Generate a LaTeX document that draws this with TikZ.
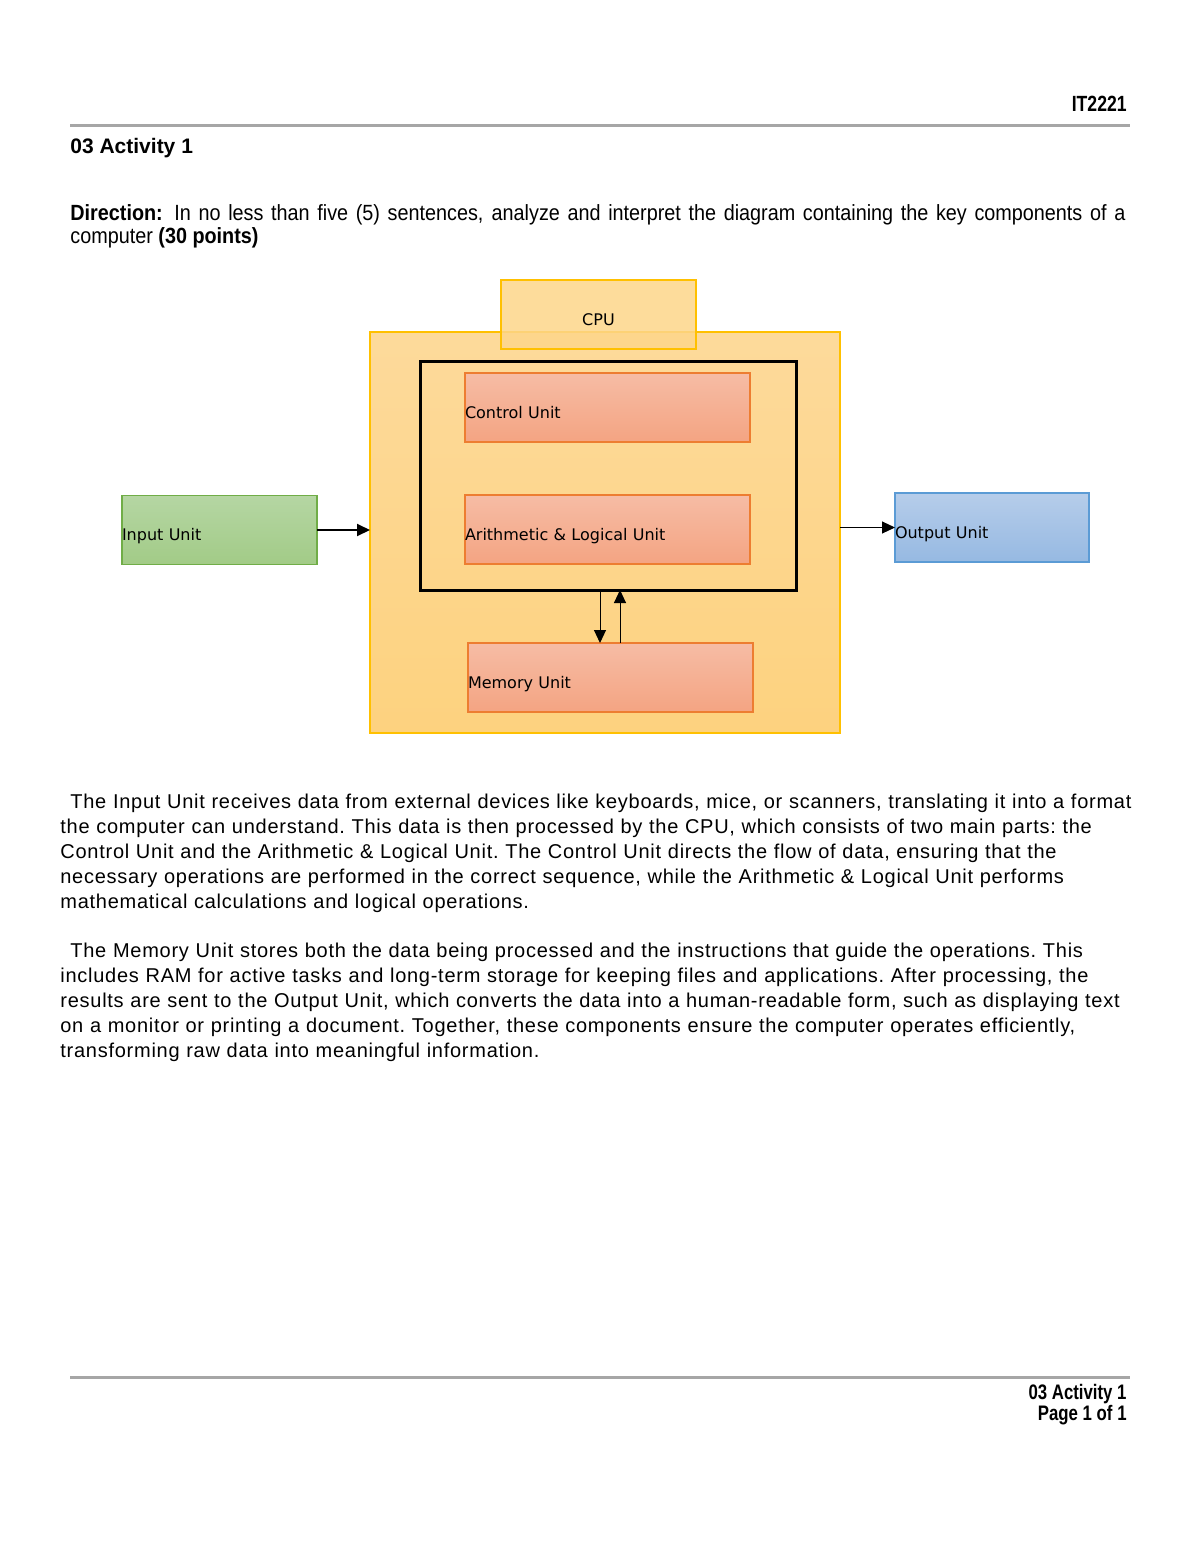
\documentclass[tikz,border=0pt]{standalone}
\usepackage{fontspec}
\setmainfont{Liberation Sans}
\newfontfamily\narrowfont[FakeStretch=0.8]{Liberation Sans}
\newfontfamily\directfont[FakeStretch=0.9]{Liberation Sans}
\newfontfamily\bodyfont[LetterSpace=3.7]{Liberation Sans}
\newfontfamily\boxfont{DejaVu Sans}
\usetikzlibrary{arrows.meta}
\usetikzlibrary{calc}
\tikzset{>={Triangle[length=6.5pt,width=6pt]}}

\definecolor{cputop}{HTML}{FDDA9B}
\definecolor{cpubot}{HTML}{FDD27F}
\definecolor{cpulab}{HTML}{FDD68A}
\definecolor{cpuedge}{HTML}{FFC000}
\definecolor{alutop}{HTML}{F6BCA5}
\definecolor{alubot}{HTML}{F4A482}
\definecolor{aluedge}{HTML}{ED7D31}
\definecolor{inptop}{HTML}{B5D6A3}
\definecolor{inpbot}{HTML}{A2CB87}
\definecolor{inpedge}{HTML}{70AD47}
\definecolor{outtop}{HTML}{B6CDEA}
\definecolor{outbot}{HTML}{96B9E2}
\definecolor{outedge}{HTML}{5B9BD5}
\definecolor{rulegray}{HTML}{A6A6A6}

\tikzset{
  unitbox/.style={draw, line width=0.75pt, minimum height=34.5pt, inner xsep=0pt,
    inner ysep=0pt, outer sep=0pt, align=left, text height=10.6pt, text depth=0pt,
    font=\boxfont\fontsize{8}{9.6}\selectfont},
  alubox/.style={unitbox, draw=aluedge, top color=alutop, bottom color=alubot, text width=142.5pt},
  inbox/.style={unitbox, draw=inpedge, top color=inptop, bottom color=inpbot, text width=97.5pt},
  outbox/.style={unitbox, draw=outedge, top color=outtop, bottom color=outbot, text width=97pt},
  cpubox/.style={draw=cpuedge, line width=0.75pt, outer sep=0pt, inner sep=0pt},
  bodytext/.style={anchor=base west, inner sep=0pt, text width=570pt, align=left,
    font=\bodyfont\frenchspacing\fontsize{10}{12.5}\selectfont},
  headtext/.style={inner sep=0pt, font=\narrowfont\bfseries\fontsize{10.5}{12}\selectfont}
}

\begin{document}
\begin{tikzpicture}[x=0.5pt, y=-0.5pt]
  \useasboundingbox[fill=white] (0,0) rectangle (1200,1553);

  \node[headtext, anchor=base east, font=\narrowfont\bfseries\fontsize{11}{12}\selectfont] (code) at (1127,111) {IT2221};
  \draw[rulegray, line width=1.5pt] (70,125) -- (1130,125);
  \node[anchor=base west, inner sep=0pt, font=\bfseries\fontsize{10.5}{12}\selectfont] (title) at (70,153) {03 Activity 1};
  \node[anchor=base west, inner sep=0pt, text width=527.5pt, align=justify,
    font=\directfont\fontsize{11}{11.5}\selectfont] (direction) at (70,220)
    {\textbf{Direction:} In no less than five (5) sentences, analyze and interpret the diagram containing the key components of a\linebreak computer \textbf{(30 points)}};

  \node[cpubox, top color=cputop, bottom color=cpubot, minimum width=235pt, minimum height=200.5pt] (cpu) at (605,532.5) {};
  \node[cpubox, fill=cpulab, fill opacity=0.85, text opacity=1, minimum width=97.5pt, minimum height=34.5pt,
    text height=10.6pt, text depth=0pt, font=\boxfont\fontsize{8}{9.6}\selectfont] (cpulabel) at (598.5,314.5) {CPU};
  \node[draw, line width=1.5pt, outer sep=0pt, minimum width=188pt, minimum height=114.5pt] (core) at (608,475.5) {};

  \node[alubox] (ctrl) at (607.5,407.5) {Control Unit};
  \node[alubox] (alu) at (607.5,529.5) {Arithmetic \& Logical Unit};
  \node[alubox] (mem) at (610.5,677.5) {Memory Unit};
  \node[inbox] (inp) at (219.5,530) {Input Unit};
  \node[outbox] (outp) at (992,527.5) {Output Unit};

  \draw[->, line width=1pt] (inp.east) -- (inp.east -| cpu.west);
  \draw[->, line width=0.5pt] (cpu.east |- outp.west) -- (outp.west);
  \draw[->, line width=0.5pt] ([xshift=-4pt]core.south) -- ([xshift=-4pt]core.south |- mem.north);
  \draw[->, line width=0.5pt] ([xshift=6pt]core.south |- mem.north) -- ([xshift=6pt]core.south);

  \node[bodytext] (para1) at (60,808)
    {\hspace*{5pt}The Input Unit receives data from external devices like keyboards, mice, or scanners, translating it into a format\\
     the computer can understand. This data is then processed by the CPU, which consists of two main parts: the\\
     Control Unit and the Arithmetic \& Logical Unit. The Control Unit directs the flow of data, ensuring that the\\
     necessary operations are performed in the correct sequence, while the Arithmetic \& Logical Unit performs\\
     mathematical calculations and logical operations.};
  \node[bodytext] (para2) at (60,957)
    {\hspace*{5pt}The Memory Unit stores both the data being processed and the instructions that guide the operations. This\\
     includes RAM for active tasks and long-term storage for keeping files and applications. After processing, the\\
     results are sent to the Output Unit, which converts the data into a human-readable form, such as displaying text\\
     on a monitor or printing a document. Together, these components ensure the computer operates efficiently,\\
     transforming raw data into meaningful information.};

  \draw[rulegray, line width=1.5pt] (70,1377) -- (1130,1377);
  \node[headtext, anchor=base east] (foot1) at (1127,1399) {03 Activity 1};
  \node[headtext, anchor=base east] (foot2) at (1127,1420) {Page 1 of 1};
\end{tikzpicture}
\end{document}
